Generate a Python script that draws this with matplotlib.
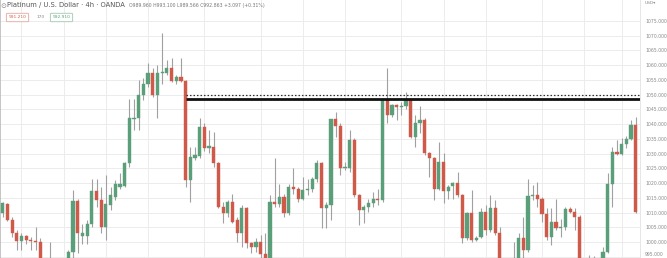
import matplotlib
matplotlib.use("Agg")
import matplotlib.pyplot as plt
import numpy as np

# ---- data ----
opens = [1009.8, 1012.9, 1007.7, 1003.0, 1000.5, 1002.1, 1000.9, 1000.5, 1000.2, 993.0,
         990.0, 992.0, 989.0, 987.0, 990.0, 996.8, 1014.0, 1002.0, 1002.1, 1006.1,
         1017.4, 1014.3, 1005.2, 1012.6, 1015.4, 1018.8, 1019.1, 1026.7, 1041.6, 1042.0,
         1049.9, 1053.8, 1057.4, 1049.9, 1057.2, 1057.5, 1059.1, 1054.6, 1055.9, 1054.6,
         1021.1, 1028.6, 1029.2, 1039.1, 1031.8, 1032.4, 1026.7, 1012.0, 1010.0, 1013.7,
         1007.7, 1003.0, 1011.5, 999.6, 998.5, 1000.2, 996.0, 990.0, 1013.7, 1013.1,
         1015.4, 1010.0, 1018.8, 1017.9, 1014.8, 1017.7, 1017.9, 1021.3, 1026.7, 1011.5,
         1012.6, 1041.6, 1039.4, 1025.0, 1025.0, 1034.6, 1016.0, 1010.9, 1012.0, 1013.4,
         1014.8, 1014.3, 1048.2, 1043.1, 1046.5, 1045.7, 1046.2, 1048.2, 1035.7, 1040.3,
         1041.4, 1030.1, 1028.4, 1018.2, 1027.3, 1017.4, 1019.0, 1020.0, 1016.0, 1001.3,
         1009.8, 1000.7, 1001.8, 1010.3, 1004.1, 1011.5, 1003.0, 993.5, 991.0, 992.0,
         993.5, 1001.3, 997.3, 1015.6, 1016.0, 1014.8, 1009.5, 1001.8, 1006.9, 1004.7,
         1005.2, 1011.2, 1010.3, 1008.6, 993.0, 990.0, 992.0, 990.0, 993.0, 996.8,
         1019.9, 1030.7, 1029.9, 1033.3, 1034.9, 1039.7]
highs = [1013.7, 1013.4, 1008.6, 1004.1, 1003.0, 1002.4, 1001.8, 1005.0, 1001.3, 994.0,
         1000.2, 993.5, 991.0, 992.0, 997.5, 1017.7, 1014.5, 1006.1, 1007.5, 1021.3,
         1021.3, 1018.8, 1022.8, 1018.8, 1021.0, 1023.5, 1027.3, 1048.7, 1048.7, 1055.0,
         1055.5, 1060.6, 1058.9, 1060.0, 1070.9, 1061.7, 1062.6, 1056.6, 1062.3, 1055.0,
         1032.4, 1032.4, 1042.0, 1040.3, 1038.0, 1037.4, 1027.3, 1013.7, 1014.3, 1016.5,
         1008.6, 1012.6, 1012.0, 1000.2, 1001.3, 1002.4, 1003.0, 1016.0, 1028.4, 1019.9,
         1016.5, 1019.9, 1025.0, 1018.8, 1022.2, 1021.3, 1022.2, 1027.8, 1027.3, 1013.7,
         1041.9, 1044.2, 1040.3, 1027.3, 1038.0, 1035.2, 1016.5, 1012.6, 1014.8, 1017.1,
         1018.2, 1048.7, 1058.9, 1047.0, 1047.0, 1047.6, 1051.0, 1048.4, 1043.1, 1046.2,
         1042.0, 1030.7, 1029.0, 1034.1, 1030.1, 1019.4, 1020.5, 1023.9, 1016.5, 1010.3,
         1017.7, 1002.0, 1011.5, 1012.6, 1016.0, 1014.3, 1005.2, 994.5, 994.0, 1000.2,
         1003.0, 1008.6, 1021.3, 1019.4, 1020.5, 1015.4, 1011.5, 1011.5, 1014.8, 1008.0,
         1011.8, 1011.8, 1011.5, 1009.2, 994.5, 995.6, 995.2, 994.0, 998.5, 1023.3,
         1032.4, 1034.6, 1035.2, 1035.9, 1041.4, 1042.5]
lows = [1008.6, 1007.2, 1001.8, 997.3, 997.3, 999.4, 997.3, 997.3, 991.0, 988.0,
        987.0, 986.0, 985.0, 985.0, 989.0, 994.5, 996.2, 999.4, 999.4, 1005.0,
        1012.0, 1003.0, 1000.7, 1010.9, 1014.3, 1018.2, 1018.8, 1025.6, 1038.0, 1038.0,
        1048.2, 1052.7, 1049.3, 1042.0, 1053.8, 1056.6, 1054.4, 1053.8, 1054.4, 1018.8,
        1013.7, 1027.8, 1028.4, 1031.0, 1030.1, 1025.6, 1011.5, 1006.4, 1008.6, 1006.4,
        1000.2, 998.5, 997.9, 996.2, 996.8, 994.0, 988.0, 989.0, 1012.0, 1012.0,
        1008.6, 1009.2, 1016.5, 1013.7, 1014.3, 1016.0, 1017.1, 1020.5, 1004.7, 1004.7,
        1007.5, 1035.8, 1022.8, 1024.5, 1023.9, 1015.4, 1005.8, 1006.4, 1010.3, 1012.0,
        1012.6, 1013.7, 1040.3, 1042.5, 1041.4, 1043.1, 1045.0, 1035.2, 1032.4, 1036.9,
        1029.5, 1022.2, 1014.3, 1017.7, 1013.4, 1014.8, 1014.8, 1015.4, 999.6, 1000.7,
        1000.2, 1000.5, 1001.3, 1002.4, 1003.5, 1002.4, 992.0, 990.0, 989.0, 990.0,
        993.0, 994.0, 996.8, 1014.3, 1012.0, 1006.9, 1000.7, 999.0, 1004.1, 1001.8,
        1004.1, 1009.8, 1004.1, 992.0, 989.0, 988.0, 988.0, 989.0, 992.0, 996.2,
        1012.0, 1029.5, 1029.5, 1032.0, 1034.6, 1010.0]
closes = [1013.2, 1007.7, 1003.0, 1000.5, 1002.1, 1000.9, 1000.5, 1000.2, 993.0, 990.0,
          992.0, 989.0, 987.0, 990.0, 996.8, 1014.0, 1003.0, 1003.0, 1006.1, 1017.4,
          1014.3, 1005.2, 1012.9, 1016.0, 1019.6, 1019.9, 1026.7, 1042.0, 1042.2, 1049.9,
          1053.8, 1057.2, 1049.9, 1057.2, 1057.8, 1059.1, 1054.6, 1055.9, 1054.6, 1021.1,
          1029.0, 1029.5, 1039.1, 1031.8, 1032.6, 1026.7, 1012.0, 1010.0, 1013.7, 1006.9,
          1003.0, 1011.5, 999.6, 998.5, 1000.2, 996.0, 990.0, 1013.7, 1013.1, 1015.4,
          1010.0, 1018.8, 1017.9, 1014.8, 1017.7, 1018.2, 1021.3, 1026.7, 1011.5, 1012.6,
          1041.6, 1039.4, 1025.0, 1025.6, 1034.6, 1016.0, 1010.9, 1012.0, 1013.4, 1014.8,
          1014.3, 1048.2, 1043.1, 1046.5, 1045.7, 1046.2, 1048.2, 1035.7, 1040.3, 1041.4,
          1030.1, 1028.4, 1018.2, 1027.3, 1017.4, 1018.6, 1020.0, 1016.0, 1001.3, 1009.8,
          1000.7, 1001.3, 1010.3, 1004.1, 1011.5, 1003.0, 993.5, 991.0, 992.0, 993.5,
          1001.3, 997.3, 1015.6, 1016.0, 1014.8, 1009.5, 1001.8, 1006.9, 1004.7, 1005.2,
          1011.2, 1010.3, 1008.6, 993.0, 990.0, 992.0, 990.0, 993.0, 996.8, 1019.9,
          1030.7, 1029.9, 1033.3, 1034.9, 1039.7, 1010.3]

price_ticks = [995, 1000, 1005, 1010, 1015, 1020, 1025, 1030, 1035, 1040,
               1045, 1050, 1055, 1060, 1065, 1070, 1075]
time_grid = [4, 13, 22, 31, 43, 55, 64, 73, 85, 94, 103, 115, 124, 132]

level_solid = 1048.6
level_dotted = 1050.0
level_start = 39

title = "Platinum / U.S. Dollar · 4h · OANDA"
ohlc_text = "O989.960 H993.100 L989.566 C992.863 +3.097 (+0.31%)"
sell_price = "991.210"
spread = "170"
buy_price = "992.910"
currency = "USD"

# ---- figure ----
W, H = 667, 258
fig = plt.figure(figsize=(W / 100, H / 100), dpi=100)
fig.patch.set_facecolor("white")
ax = fig.add_axes([0, 0, 640 / W, 1])
ax.set_facecolor("white")

up_col = "#5b9f7a"
dn_col = "#cf5a4a"
wick_col = "#a0a0a0"

o = np.array(opens); h = np.array(highs); l = np.array(lows); c = np.array(closes)
n = len(o)
x = np.arange(n)
up = c >= o
cols = np.where(up, up_col, dn_col)

ax.vlines(x, l, h, colors=wick_col, linewidth=0.8, zorder=2)
bottom = np.minimum(o, c)
height = np.maximum(np.abs(c - o), 0.35)
ax.bar(x, height, bottom=bottom, width=0.68, color=cols, edgecolor=cols,
       linewidth=0.3, zorder=3)

# grid
for t in price_ticks:
    ax.axhline(t, color="#ececec", linewidth=0.7, zorder=0)
for g in time_grid:
    ax.axvline(g, color="#ececec", linewidth=0.7, zorder=0)

# horizontal levels
ax.hlines(level_solid, level_start, n + 5, colors="#111111", linewidth=2.0, zorder=4)
ax.hlines(level_dotted, level_start, n + 5, colors="#333333", linewidth=0.9,
          linestyles=(0, (1.2, 1.6)), zorder=4)

ax.set_xlim(-0.58, 135.9)
ax.set_ylim(994.66, 1082.1)

ax.yaxis.tick_right()
ax.set_yticks(price_ticks)
ax.set_yticklabels([f"{t:.3f}" for t in price_ticks])
ax.tick_params(axis="y", length=0, pad=3.6, labelsize=3.3, labelcolor="#8a8a8a")
lowest = ax.get_yticklabels()[0]
lowest.set_va("bottom")
ax.set_xticks([])
for s in ["top", "bottom"]:
    ax.spines[s].set_visible(False)
ax.spines["left"].set_color("#bbbbbb")
ax.spines["left"].set_linewidth(1.2)
ax.spines["right"].set_color("#e6e6e6")
ax.spines["right"].set_linewidth(0.7)

def fx(px):
    return px / W

def fy(py):
    return 1 - py / H

# header
fig.text(fx(3.5), fy(5.5), "⊙", fontsize=5, color="#888888", ha="center", va="center")
fig.text(fx(7), fy(5.5), title, fontsize=4.85, color="#555555", ha="left", va="center")
fig.text(fx(129), fy(5.5), ohlc_text, fontsize=3.3, color="#777777", ha="left", va="center")

fig.text(fx(17.5), fy(17.5), sell_price, fontsize=3.2, color="#d06050", ha="center", va="center",
         bbox=dict(boxstyle="round,pad=0.5,rounding_size=0.25", fc="white", ec="#e3a59c", lw=0.6))
fig.text(fx(41), fy(17.5), spread, fontsize=3.2, color="#888888", ha="center", va="center")
fig.text(fx(61.5), fy(17.5), buy_price, fontsize=3.2, color="#5b9f7a", ha="center", va="center",
         bbox=dict(boxstyle="round,pad=0.5,rounding_size=0.25", fc="white", ec="#9cc7af", lw=0.6))

fig.text(fx(645), fy(3.5), currency + "▾", fontsize=3.2, color="#888888", ha="left", va="center")

fig.savefig("out.png", dpi=100, facecolor="white")
